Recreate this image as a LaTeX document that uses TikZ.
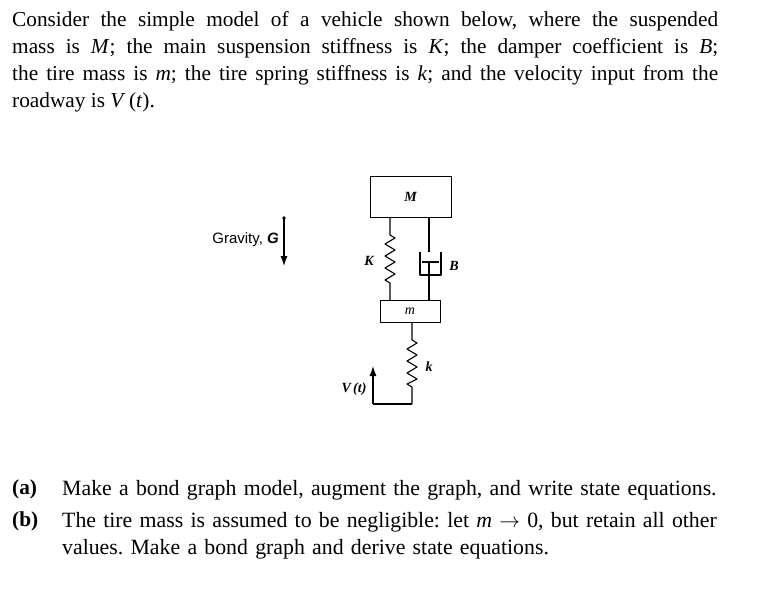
\documentclass[tikz,border=0pt]{standalone}
\usepackage{fontspec}
\setmainfont{Liberation Serif}
\newfontfamily\sansf{Liberation Sans}
\usetikzlibrary{arrows.meta}
\begin{document}
\frenchspacing
\begin{tikzpicture}[x=1pt,y=-1pt,
  body/.style={draw,line width=0.9pt},
  ln/.style={line width=1.1pt,line join=round},
  para/.style={anchor=north west,inner sep=0pt,font=\frenchspacing\fontsize{21.3}{27}\selectfont,align=justify},
  lab/.style={font=\bfseries\itshape\fontsize{14}{14}\selectfont,inner sep=0pt}]
\useasboundingbox (0,0) rectangle (770,590);
\node[para,text width=706pt] (intro) at (12,11) {Consider the simple model of a vehicle shown below, where the suspended\linebreak mass is \textit{M}; the main suspension stiffness is \textit{K}; the damper coefficient is \textit{B};\linebreak the tire mass is \textit{m}; the tire spring stiffness is \textit{k}; and the velocity input from the\linebreak roadway is \textit{V}\,(\textit{t}).};
\node[body,minimum width=81pt,minimum height=41pt,inner sep=0pt] (M) at (410.5,196.5) {};
\node[lab] (Ml) at (M) {M};
\node[body,minimum width=60pt,minimum height=22pt,inner sep=0pt] (m) at (410,311) {};
\node[lab,font=\itshape\fontsize{14}{14}\selectfont] (ml) at (m) {m};
\coordinate (ks) at (390,217); \coordinate (ke) at (390,300);
\draw[ln] (ks) -- (390,235) -- (395,238) -- (385,244) -- (395,250) -- (385,256) -- (395,262) -- (385,268) -- (395,274) -- (385,280) -- (390,283) -- (ke);
\coordinate (ds) at (429,217); \coordinate (de) at (429,300);
\coordinate (dt) at (429,262); \coordinate (db) at (429,252);
\draw[ln] (ds) -- (db);
\draw[ln] (420,252) -- (420,275) -- (441,275) -- (441,252);
\draw[ln] (422,262) -- (439,262);
\draw[ln] (dt) -- (de);
\coordinate (ts) at (412,322); \coordinate (te) at (412,404);
\draw[ln] (ts) -- (412,340) -- (417,343) -- (407,349) -- (417,355) -- (407,361) -- (417,367) -- (407,373) -- (417,379) -- (407,384) -- (412,387) -- (te);
\coordinate (vb) at (373,404); \coordinate (vt) at (373,366);
\draw[ln] (te) -- (vb);
\draw[ln,-{Latex[length=10pt,width=7pt]}] (vb) -- (vt);
\coordinate (gs) at (284,218); \coordinate (ge) at (284,266);
\fill (gs) circle (1.8pt);
\draw[ln,-{Latex[length=10pt,width=7pt]}] (gs) -- (ge);
\node[anchor=east,inner sep=0pt,font=\sansf\fontsize{15}{15}\selectfont] (grav) at (279,240) {Gravity, \textit{\textbf{G}}};
\node[lab] (Kl) at (369,261) {K};
\node[lab] (Bl) at (454,266) {B};
\node[lab] (kl) at (429,367) {k};
\node[lab] (Vl) at (354,389) {V\,(t)};
\node[anchor=north west,inner sep=0pt,font=\bfseries\fontsize{21.3}{27}\selectfont] (a) at (12,480) {(a)};
\node[anchor=north west,inner sep=0pt,font=\bfseries\fontsize{21.3}{27}\selectfont] (b) at (12,512) {(b)};
\node[para,text width=680pt,align=left,font=\fontsize{21.8}{27}\selectfont] (at) at (62,480) {Make a bond graph model, augment the graph, and write state equations.};
\node[para,text width=680pt,align=left,font=\fontsize{21.8}{27}\selectfont] (bt) at (62,512) {The tire mass is assumed to be negligible: let \textit{m} $\rightarrow$ 0, but retain all other\\ values. Make a bond graph and derive state equations.};
\end{tikzpicture}
\end{document}
